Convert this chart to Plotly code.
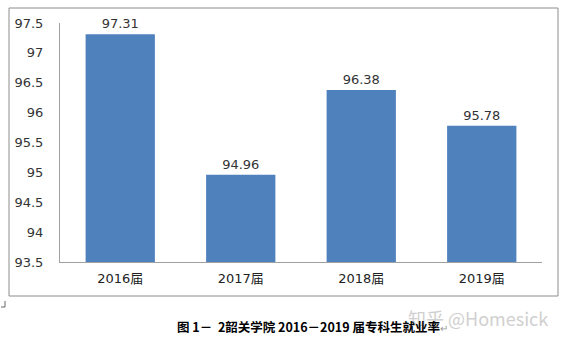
import plotly.graph_objects as go

categories = ["2016届", "2017届", "2018届", "2019届"]
rates = [97.31, 94.96, 96.38, 95.78]
y_ticks = [93.5, 94, 94.5, 95, 95.5, 96, 96.5, 97, 97.5]
y_tick_labels = ["93.5", "94", "94.5", "95", "95.5", "96", "96.5", "97", "97.5"]
caption = "图 1－  2韶关学院 2016－2019 届专科生就业率"
watermark = "知乎 @Homesick"

W, H = 574, 341
L, R, T, B = 60, 32, 23, 79
pw, ph = W - L - R, H - T - B

def px(x):
    return (x - L) / pw

def py(y):
    return (H - B - y) / ph

font_fam = "DejaVu Sans, Noto Sans CJK SC, sans-serif"

fig = go.Figure(go.Bar(
    x=categories, y=rates, marker=dict(color="#4F81BD", line=dict(width=0)),
    width=0.575, text=[f"{v:.2f}" for v in rates], textposition="outside",
    textfont=dict(size=13, color="#333333", family=font_fam), cliponaxis=False,
))

fig.update_layout(
    width=W, height=H, margin=dict(l=L, r=R, t=T, b=B),
    paper_bgcolor="white", plot_bgcolor="white", showlegend=False,
    font=dict(family=font_fam, size=13, color="#333333"),
    xaxis=dict(showline=True, linecolor="#a0a0a0", linewidth=1, ticks="",
               tickfont=dict(size=13, color="#222222"), ticklabelstandoff=4),
    yaxis=dict(range=[93.5, 97.5], tickvals=y_ticks, ticktext=y_tick_labels,
               showline=True, linecolor="#a0a0a0", linewidth=1, showgrid=False,
               zeroline=False, ticks="", ticklabelstandoff=13,
               tickfont=dict(size=13, color="#333333")),
)

# outer border of the chart object
fig.add_shape(type="rect", xref="paper", yref="paper",
              x0=px(9), x1=px(558), y0=py(296), y1=py(8),
              line=dict(color="#8c8c8c", width=1), layer="below")
# small corner mark
fig.add_shape(type="line", xref="paper", yref="paper",
              x0=px(5), x1=px(5), y0=py(301), y1=py(307),
              line=dict(color="#666666", width=1))
fig.add_shape(type="line", xref="paper", yref="paper",
              x0=px(1), x1=px(5), y0=py(307), y1=py(307),
              line=dict(color="#666666", width=1))

fig.add_annotation(xref="paper", yref="paper", x=px(478), y=py(318),
                   xanchor="center", yanchor="middle",
                   text=watermark, showarrow=False,
                   font=dict(size=18, color="#d0d0d0", family="Noto Sans CJK SC, sans-serif"))
fig.add_annotation(xref="paper", yref="paper", x=px(312), y=py(326),
                   xanchor="center", yanchor="middle",
                   text="<b>" + caption + "</b><span style='color:#999999;font-size:10px'>↵</span>",
                   showarrow=False,
                   font=dict(size=12.5, color="#000000", family="Noto Sans CJK SC, sans-serif"))

fig.write_html("out.html")
